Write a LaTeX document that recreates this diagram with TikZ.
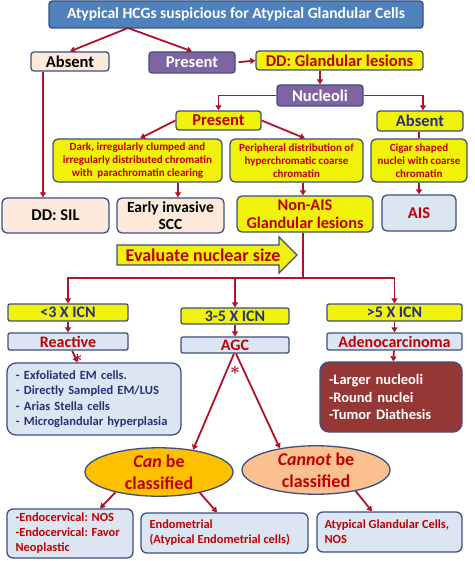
\documentclass[tikz,border=0pt]{standalone}
\usepackage{fontspec}
\setmainfont{Carlito}
\usetikzlibrary{arrows.meta,shapes.geometric,calc}
\definecolor{tblue}{HTML}{4F81BD}
\definecolor{tbord}{HTML}{3C4F7E}
\definecolor{purp}{HTML}{8064A2}
\definecolor{yel}{HTML}{F0F20A}
\definecolor{peach}{HTML}{FDEADA}
\definecolor{lblue}{HTML}{DCE6F2}
\definecolor{tred}{HTML}{C00000}
\definecolor{navy}{HTML}{25307A}
\definecolor{conn}{HTML}{B0122A}
\definecolor{dred}{HTML}{953735}
\definecolor{gold}{HTML}{FFC000}
\definecolor{lorange}{HTML}{FAC08F}
\tikzset{
  bx/.style={draw=tbord, line width=1.3pt, rounded corners=3pt, inner sep=1pt, align=center, font=\bfseries},
  bw/.style 2 args={minimum width=#1pt, minimum height=#2pt},
  lb/.style 2 args={text width=#1pt-18pt, minimum height=#2pt, inner xsep=9pt, align=left},
  btxt/.style={anchor=west, align=left, inner sep=0pt, text=tred, font=\bfseries\fontsize{12.4}{15}\selectfont},
  arr/.style={draw=conn, line width=1.8pt, -{Triangle[width=6pt,length=5pt]}},
  ln/.style={draw=conn, line width=1.8pt},
  ast/.style={text=conn, font=\fontsize{19}{19}\selectfont\boldmath, inner sep=0pt},
  ell/.style={ellipse, draw=tbord, line width=1.3pt, align=center, font=\bfseries\fontsize{18}{21.5}\selectfont, text=tred, inner sep=0pt, minimum width=148pt, minimum height=48pt},
}
\begin{document}
\begin{tikzpicture}[x=1pt,y=-1pt]
\useasboundingbox (0,0) rectangle (474,561);
\fill[white] (0,0) rectangle (474,561);
% row 1
\node[bx, bw={374}{27}, fill=tblue, text=white, font=\bfseries\fontsize{15.6}{17}\selectfont] (title) at (236,14.5) {Atypical HCGs suspicious for Atypical Glandular Cells};
\node[bx, bw={78}{19}, fill=peach, text=black, font=\bfseries\fontsize{16.5}{17}\selectfont] (absL) at (70,61.5) {Absent};
\node[bx, bw={86}{21}, fill=purp, text=white, font=\bfseries\fontsize{16.5}{17}\selectfont] (pres) at (192,62.5) {Present};
\node[bx, bw={167}{19}, fill=yel, text=tred, font=\bfseries\fontsize{16.5}{17}\selectfont] (dd) at (339.5,60.5) {DD: Glandular lesions};
\node[bx, bw={86}{21}, fill=purp, text=white, font=\bfseries\fontsize{16.5}{17}\selectfont] (nuc) at (320,95.5) {Nucleoli};
\node[bx, bw={85}{19}, fill=yel, text=tred, font=\bfseries\fontsize{16.5}{17}\selectfont] (pres2) at (218.5,120.5) {Present};
\node[bx, bw={86}{20}, fill=yel, text=navy, font=\bfseries\fontsize{16.5}{17}\selectfont] (abs2) at (420,121) {Absent};
% chromatin row
\node[bx, bw={169}{43}, fill=yel, text=tred, rounded corners=5pt, font=\bfseries\fontsize{11}{13}\selectfont] (dark) at (137.5,160.5) {Dark, irregularly clumped and\\irregularly distributed chromatin\\with\ \ parachromatin clearing};
\node[bx, bw={133}{43}, fill=yel, text=tred, rounded corners=5pt, font=\bfseries\fontsize{11}{13}\selectfont] (peri) at (296.5,160.5) {Peripheral distribution of\\hyperchromatic coarse\\chromatin};
\node[bx, bw={96}{43}, fill=yel, text=tred, rounded corners=5pt, font=\bfseries\fontsize{11}{13}\selectfont] (cigar) at (419,160.5) {Cigar shaped\\nuclei with coarse\\chromatin};
% diagnosis row
\node[bx, bw={107}{35}, fill=peach, text=black, rounded corners=5pt, font=\bfseries\fontsize{16.5}{17}\selectfont] (sil) at (55.5,215.5) {DD: SIL};
\node[bx, bw={107}{35}, fill=peach, text=black, rounded corners=5pt, font=\bfseries\fontsize{15.5}{17}\selectfont] (early) at (170.5,215.5) {Early invasive\\SCC};
\node[bx, bw={136}{36}, fill=yel, text=tred, rounded corners=5pt, font=\bfseries\fontsize{16.3}{18}\selectfont] (nonais) at (305,214) {Non-AIS\\Glandular lesions};
\node[bx, bw={74}{36}, fill=lblue, text=tred, rounded corners=5pt, font=\bfseries\fontsize{16.5}{18}\selectfont] (ais) at (419,213) {AIS};
% evaluate arrow
\filldraw[fill=yel, draw=tbord, line width=1.3pt, line join=miter] (117,245) -- (279,245) -- (279,237) -- (297,255) -- (279,273) -- (279,265) -- (117,265) -- cycle;
\node[text=tred, font=\bfseries\fontsize{18}{20}\selectfont, inner sep=0pt] (eval) at (203,255) {Evaluate nuclear size};
% size row
\node[bx, bw={120}{17}, fill=yel, text=navy, rounded corners=2pt, font=\bfseries\fontsize{16}{16}\selectfont] (icn3) at (68,312.5) {<3 X ICN};
\node[bx, bw={108}{16}, fill=yel, text=navy, rounded corners=2pt, font=\bfseries\fontsize{16}{16}\selectfont] (icn35) at (235,316) {3-5 X ICN};
\node[bx, bw={135}{17}, fill=yel, text=navy, rounded corners=2pt, font=\bfseries\fontsize{16}{16}\selectfont] (icn5) at (394.5,312.5) {>5 X ICN};
\node[bx, bw={120}{17}, fill=lblue, text=tred, rounded corners=2pt, font=\bfseries\fontsize{16}{16}\selectfont] (react) at (68,341.5) {Reactive};
\node[bx, bw={108}{16}, fill=lblue, text=tred, rounded corners=2pt, font=\bfseries\fontsize{16}{16}\selectfont] (agc) at (235,345) {AGC};
\node[bx, bw={135}{17}, fill=lblue, text=tred, rounded corners=2pt, font=\bfseries\fontsize{16}{16}\selectfont] (adeno) at (394.5,341.5) {Adenocarcinoma};
% lists
\node[bx, lb={174}{72}, fill=lblue, text=navy, rounded corners=9pt, font=\bfseries\fontsize{12.5}{15.5}\selectfont] (list) at (94,399) {- Exfoliated EM cells.\\- Directly Sampled EM/LUS\\- Arias Stella cells\\- Microglandular hyperplasia};
\node[bx, lb={142}{70}, fill=dred, text=white, rounded corners=9pt, font=\bfseries\fontsize{14.5}{17.5}\selectfont] (dred) at (391,397) {-Larger nucleoli\\-Round nuclei\\-Tumor Diathesis};
% ellipses
\node[ell, fill=gold] (can) at (159,472) {\textit{Can} be\\classified};
\node[ell, fill=lorange] (cannot) at (316,470) {\textit{Cannot} be\\classified};
% bottom
\node[bx, bw={126}{49}, fill=lblue, rounded corners=6pt] (b1) at (70,533.5) {};
\node[btxt] (b1t) at ([xshift=9pt]b1.west) {-Endocervical: NOS\\-Endocervical: Favor\\Neoplastic};
\node[bx, bw={167}{40}, fill=lblue, rounded corners=6pt] (b2) at (224.5,533) {};
\node[btxt] (b2t) at ([xshift=9pt]b2.west) {Endometrial\\(Atypical Endometrial cells)};
\node[bx, bw={145}{40}, fill=lblue, rounded corners=6pt] (b3) at (389.5,532) {};
\node[btxt] (b3t) at ([xshift=8pt]b3.west) {Atypical Glandular Cells,\\NOS};
% connectors
\coordinate (ts) at (128,28);
\draw[arr] (ts) -- (absL.north);
\draw[arr] (ts) -- (pres.north);
\draw[arr, shorten <=3pt] (pres.east) -- (dd.west);
\draw[arr] (dd.south -| nuc.north) -- (nuc.north);
\draw[arr] (nuc.west) -| (pres2.north);
\draw[arr] (nuc.east) -| ([xshift=3pt]abs2.north);
\draw[arr] (pres2.west) -- ([xshift=2.5pt]dark.north);
\draw[arr] (pres2.east) -- (nonais.north |- peri.north);
\draw[ln] ([xshift=-1pt]abs2.south) -- ([xshift=-1pt]abs2.south |- cigar.north);
\draw[arr] ([xshift=-12.5pt]sil.north |- absL.south) -- ([xshift=-12.5pt]sil.north);
\draw[arr] ([xshift=7.5pt]early.north |- dark.south) -- ([xshift=7.5pt]early.north);
\draw[arr] ([xshift=-2pt]nonais.north |- peri.south) -- ([xshift=-2pt]nonais.north);
\draw[arr] (cigar.south -| ais.north) -- (ais.north);
\coordinate (hb) at (303,278);
\draw[ln] ([xshift=-2pt]nonais.south) -- (hb);
\draw[arr] (hb) -| (icn3.north);
\draw[arr] (hb) -| (icn5.north);
\draw[arr] (hb -| icn35.north) -- (icn35.north);
\draw[arr] (icn3) -- (react);
\draw[arr] (icn35) -- (agc);
\draw[arr] (icn5) -- (adeno);
\draw[arr] (react) -- (list);
\draw[arr] (adeno) -- (dred);
\draw[arr] ([xshift=-1pt]agc.south) -- (can.33);
\draw[arr] ([xshift=1pt]agc.south) -- (cannot.149);
\draw[arr] (can.205) -- ([xshift=30pt]b1.north);
\draw[arr] (can.-27) -- ([xshift=-7.5pt]b2.north);
\draw[arr] (cannot.-28) -- ([xshift=-17.5pt]b3.north);
\node[ast] (ast1) at (77.5,358) {$\ast$};
\node[ast] (ast2) at (235,370) {$\ast$};
\end{tikzpicture}
\end{document}
